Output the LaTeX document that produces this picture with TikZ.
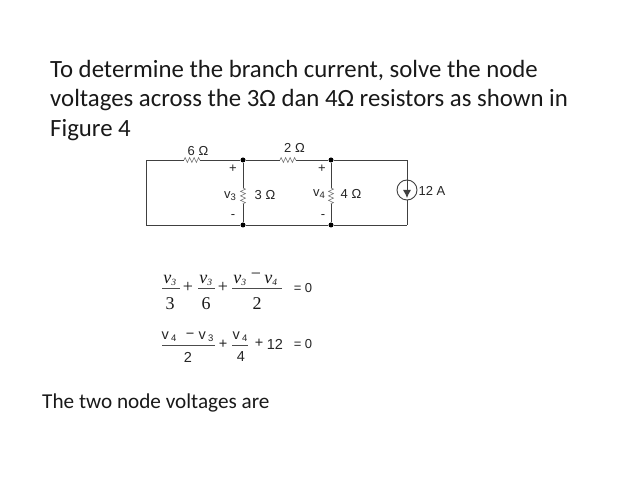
\documentclass[tikz,border=0pt]{standalone}
\usepackage{fontspec}
\setmainfont{Carlito}
\newfontfamily\arl{Liberation Sans}
\newfontfamily\tms{Liberation Serif}
\usetikzlibrary{decorations.pathmorphing,arrows.meta}
\tikzset{
 title/.style={anchor=west,inner sep=0pt,font=\fontsize{24.8}{25}\selectfont,text=black!90},
 lab/.style={inner sep=0pt,font=\arl\fontsize{13}{13}\selectfont,text=black!85},
 eqa/.style={inner sep=0pt,font=\arl\fontsize{14.5}{14.5}\selectfont,text=black!85},
 eqt/.style={inner sep=0pt,font=\tms\fontsize{18}{18}\selectfont,text=black!90},
 wire/.style={draw=black!75,line width=.9pt},
 bar/.style={draw=black!70,line width=.7pt},
 res/.style={draw=black!55,line width=.6pt,decoration={zigzag,segment length=4.5pt,amplitude=2.4pt},decorate},
 dot/.style={circle,fill=black,inner sep=0pt,minimum size=5pt},
 corner/.style={inner sep=0pt,minimum size=0pt},
}
\newcommand{\smalldig}[1]{\textsubscript{\fontsize{9.5}{9.5}\selectfont #1}}
\newcommand{\lowdig}[1]{\,\raisebox{-2pt}{\fontsize{9.5}{9.5}\selectfont #1}}
\newcommand{\tightdig}[1]{\raisebox{-2pt}{\fontsize{9.5}{9.5}\selectfont #1}}
\begin{document}
\begin{tikzpicture}[x=1pt,y=-1pt]
\useasboundingbox (0,0) rectangle (638,478);
\fill[white] (0,0) rectangle (638,478);
\node[title] (t1) at (50,70) {To determine the branch current, solve the node};
\node[title] (t2) at (50,100) {voltages across the 3Ω dan 4Ω resistors as shown in};
\node[title] (t3) at (50,130.5) {Figure 4};
\node[title,font=\fontsize{21.2}{22}\selectfont] (t4) at (42,402.5) {The two node voltages are};
% circuit nodes
\node[corner] (tl) at (146,160) {};
\node[corner] (bl) at (146,225) {};
\node[dot] (a) at (243,160) {};
\node[dot] (b) at (331,160) {};
\node[dot] (c) at (243,225) {};
\node[dot] (d) at (331,225) {};
\node[corner] (tr) at (407,160) {};
\node[corner] (br) at (407,225) {};
\node[circle,draw=black!75,line width=.9pt,minimum size=20pt,inner sep=0pt] (s) at (407,190) {};
\coordinate (r6a) at (184,160); \coordinate (r6b) at (200,160);
\coordinate (r2a) at (280,160); \coordinate (r2b) at (296,160);
\coordinate (r3a) at (243,188); \coordinate (r3b) at (243,204);
\coordinate (r4a) at (331,188); \coordinate (r4b) at (331,204);
\coordinate (tip) at (407,198);
\draw[wire] (r6b) -- (a) (a) -- (r2a) (r2b) -- (b) (b) -- (tr) -- (s) (s) -- (br) -- (d) -- (c) -- (bl) -- (tl) -- (r6a);
\draw[wire] (a) -- (r3a) (r3b) -- (c) (b) -- (r4a) (r4b) -- (d);
\draw[res] (r6a) -- (r6b);
\draw[res] (r2a) -- (r2b);
\draw[res] (r3a) -- (r3b);
\draw[res] (r4a) -- (r4b);
\draw[wire,-{Latex[length=8pt,width=8pt]}] (s.north) -- (tip);
\node[lab] (l6) at (198,151) {6 Ω};
\node[lab] (l2) at (294.5,148) {2 Ω};
\node[lab] (p3) at (233,169) {+};
\node[lab] (p4) at (322,169) {+};
\node[lab] (m3) at (233,217) {-};
\node[lab] (m4) at (323,217) {-};
\node[lab] (v3) at (230,196) {v\tightdig{3}};
\node[lab] (v4) at (319,194) {v\tightdig{4}};
\node[lab] (l3) at (265,195) {3 Ω};
\node[lab] (l4) at (351,194) {4 Ω};
\node[lab] (l12) at (432,191) {12 A};
% equation 1
\node[eqt] (e1a) at (170,280.5) {\itshape v\smalldig{3}};
\draw[bar] (162,288) -- (180,288);
\node[eqt] (e1b) at (170,304) {3};
\node[eqt] (e1p) at (188,287) {+};
\node[eqt] (e1c) at (206,280.5) {\itshape v\smalldig{3}};
\draw[bar] (198,288) -- (215,288);
\node[eqt] (e1d) at (206,304) {6};
\node[eqt] (e1q) at (223,287) {+};
\node[eqt] (e1e) at (240,280.5) {\itshape v\smalldig{3}};
\node[eqt] (e1m) at (256,276.5) {−};
\node[eqt] (e1f) at (271,280.5) {\itshape v\smalldig{4}};
\draw[bar] (232,288) -- (282,288);
\node[eqt] (e1g) at (257,304) {2};
\node[eqa,font=\arl\fontsize{13}{13}\selectfont] (e1z) at (303,288) {= 0};
% equation 2
\node[eqa] (e2a) at (169,337) {v\lowdig{4}};
\node[eqa] (e2m) at (190,336) {−};
\node[eqa] (e2b) at (206,337) {v\lowdig{3}};
\draw[bar] (162,345) -- (215,345);
\node[eqa] (e2c) at (188,357) {2};
\node[eqa] (e2p) at (223,344) {+};
\node[eqa] (e2d) at (240,337) {v\lowdig{4}};
\draw[bar] (232,345) -- (248,345);
\node[eqa] (e2e) at (241,357) {4};
\node[eqa] (e2q) at (259,343) {+};
\node[eqa] (e2n) at (275,344) {12};
\node[eqa,font=\arl\fontsize{13}{13}\selectfont] (e2z) at (303,344) {= 0};
\end{tikzpicture}
\end{document}
